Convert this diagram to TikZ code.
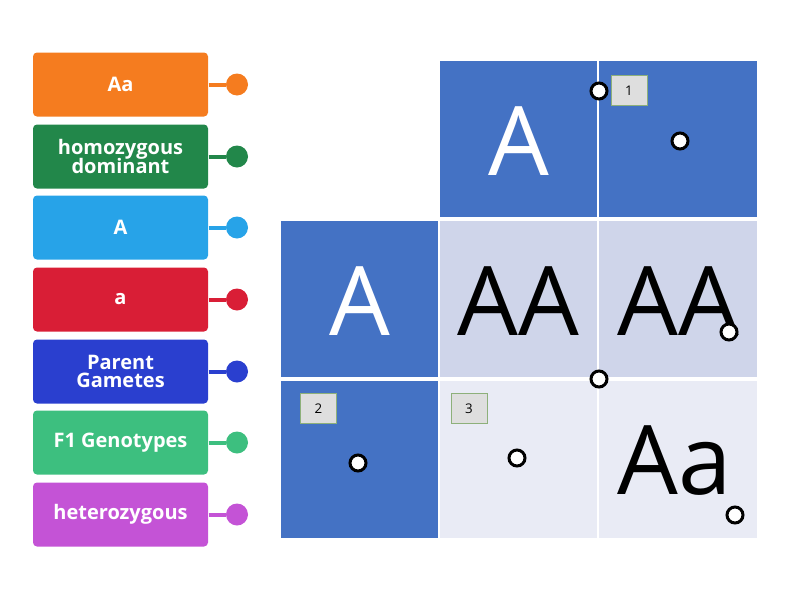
\documentclass[tikz,border=0pt]{standalone}
\usepackage{fontspec}
\setmainfont{Open Sans}
\definecolor{cellblue}{HTML}{4472C4}
\definecolor{cellmid}{HTML}{CFD5EA}
\definecolor{celllight}{HTML}{E9EBF5}
\definecolor{tagorange}{HTML}{F57C1F}
\definecolor{taggreen}{HTML}{22874A}
\definecolor{tagsky}{HTML}{27A3E8}
\definecolor{tagred}{HTML}{D91E36}
\definecolor{tagblue}{HTML}{2A3FCF}
\definecolor{tagmint}{HTML}{3DBF7F}
\definecolor{tagpurple}{HTML}{C453D6}
\definecolor{numedge}{HTML}{8DB07A}
\tikzset{every picture/.style={line width=0.75pt}}
\tikzset{
  tagbox/.style={rounded corners=3pt, minimum width=131.25pt, minimum height=48pt, inner sep=0pt, text=white, align=center, font=\bfseries\fontsize{15}{17}\selectfont},
  pegdot/.style={circle, minimum size=16.5pt, inner sep=0pt},
  hole/.style={circle, draw=black, fill=white, line width=2.25pt, minimum size=12pt, inner sep=0pt},
  numbox/.style={draw=numedge, fill=black!13, minimum width=27pt, minimum height=23pt, inner sep=0pt, font=\fontsize{10}{12}\selectfont},
  bigtxt/.style={font=\fontsize{72}{72}\selectfont}
}
\begin{document}
\begin{tikzpicture}[x=0.75pt,y=0.75pt,yscale=-1,xscale=1]
	\useasboundingbox (0,0) rectangle (800,600);
	
	%Punnett cells
	\fill [cellblue] (440,61) rectangle (597,217);
	\fill [cellblue] (599,61) rectangle (757,217);
	\fill [cellblue] (281,221) rectangle (438,377);
	\fill [cellmid] (440,221) rectangle (597,377);
	\fill [cellmid] (599,221) rectangle (757,377);
	\fill [cellblue] (281,381) rectangle (438,538);
	\fill [celllight] (440,381) rectangle (597,538);
	\fill [celllight] (599,381) rectangle (757,538);
	
	% Text Node
	\node (topA) [bigtxt, text=white] at (518.5,141) {A};
	\node (sideA) [bigtxt, text=white] at (359.5,301) {A};
	\node (cellAA1) [bigtxt] at (518.5,301) {AA};
	\node (cellAA2) [bigtxt] at (678,301) {AA};
	\node (cellAa) [bigtxt] at (675,461) {Aa};
	
	%Tags
	\foreach \name/\txt/\col/\yy in {tagAa/Aa/tagorange/84.5, tagHomo/{homozygous\\[-3pt]dominant}/taggreen/156.5, tagA/A/tagsky/227.5, taga/a/tagred/299.5, tagPar/{Parent\\[-3pt]Gametes}/tagblue/371.5, tagF/F1 Genotypes/tagmint/442.5, tagHet/heterozygous/tagpurple/514.5}
	{
		\node (\name) [tagbox, fill=\col] at (120.5,\yy) {\txt};
		\node (\name dot) [pegdot, fill=\col] at (237,\yy) {};
		\draw [\col, line width=3pt] (\name.east) -- (\name dot);
	}
	
	%Numbers
	\node (num1) [numbox] at (629,90.5) {1};
	\node (num2) [numbox] at (318.5,408.5) {2};
	\node (num3) [numbox] at (469,408.5) {3};
	
	%Holes
	\foreach \hx/\hy [count=\i] in {599/91, 680/141, 729/332, 599/379, 358/463, 517/458, 735/515}
		\node (hole\i) [hole] at (\hx,\hy) {};
	
\end{tikzpicture}
\end{document}
